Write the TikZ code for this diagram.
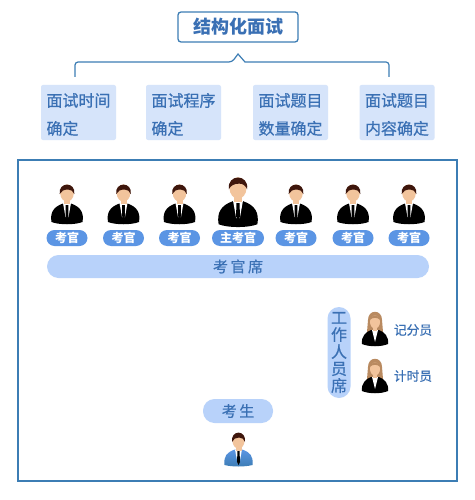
\documentclass[tikz,border=0pt]{standalone}
\usepackage{fontspec}
\setmainfont{Noto Sans CJK SC}
\newfontfamily\medfont[FakeBold=0.6]{Noto Sans CJK SC}
\usetikzlibrary{calc}
\definecolor{ink}{HTML}{3A70B4}
\definecolor{frameblue}{HTML}{3C7DB4}
\definecolor{boxfill}{HTML}{D6E4FA}
\definecolor{pillfill}{HTML}{B8D2FA}
\definecolor{tagfill}{HTML}{5B95E4}
\definecolor{skin}{HTML}{F2C49C}
\definecolor{hair}{HTML}{3E160C}
\definecolor{fhair}{HTML}{B98A60}
\tikzset{
  titlebox/.style={draw=frameblue,line width=1.3pt,rounded corners=3pt,fill=white,minimum width=120pt,minimum height=30pt,text=ink,font=\bfseries\fontsize{18}{18}\selectfont},
  taskbox/.style={fill=boxfill,rounded corners=2pt,minimum width=75pt,minimum height=55pt,text=ink,align=left,font=\medfont\fontsize{16}{28}\selectfont,inner sep=0pt,text width=64pt},
  tagpill/.style={fill=tagfill,rounded corners=8pt,minimum width=41pt,minimum height=16pt,inner sep=0pt,text=white,font=\bfseries\fontsize{12}{12}\selectfont},
  seatpill/.style={fill=pillfill,rounded corners=11.5pt,inner sep=0pt,text=ink,font=\medfont\fontsize{15}{15}\selectfont},
  plainlabel/.style={text=ink,inner sep=0pt,font=\medfont\fontsize{12.7}{13}\selectfont},
  bracketline/.style={draw=frameblue,line width=1.2pt,rounded corners=3pt},
  outerframe/.style={draw=frameblue,line width=1.3pt,fill=white}
}
\newcommand{\manfig}[4]{%
  \begin{scope}[shift={(#1,#2)},scale=#3]
    \fill[#4] (-15.5,29) .. controls (-17,20) and (-14,14) .. (-4,10.5) -- (4,10.5) .. controls (14,14) and (17,20) .. (15.5,29) .. controls (8,32) and (-8,32) .. (-15.5,29) -- cycle;
    \fill[white] (-4,10) -- (4,10) -- (1.5,24) -- (-1.5,24) -- cycle;
    \fill[black] (-1.3,12) -- (1.3,12) -- (1.5,23) -- (0,26) -- (-1.5,23) -- cycle;
    \fill[skin] (-3,4) rectangle (3,11);
    \fill[skin] (0,0) ellipse (6.8 and 8.6);
    \fill[hair] (-7.3,1) .. controls (-9,-11.5) and (9,-11.5) .. (7.3,1) .. controls (6,-2) and (4,-3.5) .. (1,-3.5) .. controls (-3,-3.5) and (-6,-2) .. (-7.3,1) -- cycle;
  \end{scope}}
\newcommand{\womanfig}[2]{%
  \begin{scope}[shift={(#1,#2)}]
    \fill[fhair] (-7,-2) .. controls (-7,-13) and (7,-13) .. (7,-2) -- (8,10) -- (-8,10) -- cycle;
    \fill[black] (-13,22) .. controls (-14,14) and (-9,10) .. (-4,8) -- (4,8) .. controls (9,10) and (14,14) .. (13,22) .. controls (6,25) and (-6,25) .. (-13,22) -- cycle;
    \fill[white] (-3,8) -- (3,8) -- (0,20) -- cycle;
    \fill[skin] (-2.2,3) rectangle (2.2,9);
    \fill[skin] (0,0) ellipse (5 and 6.5);
    \fill[fhair] (-5.5,-2) .. controls (-5,-8) and (5,-8) .. (5.5,-2) .. controls (2,-5) and (-2,-5) .. (-5.5,-2) -- cycle;
  \end{scope}}
\begin{document}
\begin{tikzpicture}[x=1pt,y=-1pt]
\useasboundingbox (0,0) rectangle (474,500);
\fill[white] (0,0) rectangle (474,500);
\node[titlebox] (title) at (238,27) {结构化面试};
\node[fill=boxfill,rounded corners=2pt,minimum width=75pt,minimum height=55pt] (t1) at (78.5,112.5) {};
\node[fill=boxfill,rounded corners=2pt,minimum width=75pt,minimum height=55pt] (t2) at (183.5,112.5) {};
\node[fill=boxfill,rounded corners=2pt,minimum width=75pt,minimum height=55pt] (t3) at (290.5,112.5) {};
\node[fill=boxfill,rounded corners=2pt,minimum width=75pt,minimum height=55pt] (t4) at (397,112.5) {};
\tikzset{tasktext/.style={taskbox,fill=none,yshift=-2pt}}
\node[tasktext] (x1) at (t1) {面试时间\\确定};
\node[tasktext] (x2) at (t2) {面试程序\\确定};
\node[tasktext] (x3) at (t3) {面试题目\\数量确定};
\node[tasktext] (x4) at (t4) {面试题目\\内容确定};
\coordinate (bl) at (75,77);
\coordinate (br) at (389,77);
\coordinate (peak) at (238,54);
\draw[bracketline] (bl) -- (75,62) -- (232,62) [sharp corners] -- (peak) -- (245,62) [rounded corners=3pt] -- (389,62) -- (br);
\node[outerframe,minimum width=439pt,minimum height=321pt,inner sep=0pt] (frame) at (237.5,320.5) {};
\manfig{67}{193}{1}{black}
\manfig{123.5}{193}{1}{black}
\manfig{179.5}{193}{1}{black}
\manfig{238}{188}{1.25}{black}
\manfig{296}{193}{1}{black}
\manfig{353}{193}{1}{black}
\manfig{409}{193}{1}{black}
\node[tagpill] (e1) at (67,238) {考官};
\node[tagpill] (e2) at (123.5,238) {考官};
\node[tagpill] (e3) at (179.5,238) {考官};
\node[tagpill,minimum width=52pt] (e4) at (238,238) {主考官};
\node[tagpill] (e5) at (296,238) {考官};
\node[tagpill] (e6) at (353,238) {考官};
\node[tagpill] (e7) at (409,238) {考官};
\node[seatpill,minimum width=382pt,minimum height=23pt] (seat) at (238,266.5) {考\,官\,席};
\node[seatpill,minimum width=23pt,minimum height=91pt,align=center,font=\medfont\fontsize{16}{17}\selectfont] (staff) at (339,352.5) {工\\作\\人\\员\\席};
\womanfig{375}{322}
\womanfig{375}{369}
\node[plainlabel] (l1) at (413,330) {记分员};
\node[plainlabel] (l2) at (413,376) {计时员};
\node[seatpill,minimum width=70pt,minimum height=24pt] (cand) at (238,411) {考\,生};
\shade[top color=tagfill,bottom color=frameblue] (224.5,465) .. controls (223.5,456) and (227,452) .. (235,449.5) -- (242,449.5) .. controls (250,452) and (253.5,456) .. (252.5,465) .. controls (245,467) and (232,467) .. (224.5,465) -- cycle;
\fill[white] (235,449.5) -- (242,449.5) -- (239.5,463) -- (237.5,463) -- cycle;
\fill[black] (237.5,451) -- (239.5,451) -- (240,462) -- (238.5,465) -- (237,462) -- cycle;
\fill[skin] (235.5,444) rectangle (241.5,451);
\fill[skin] (238.5,441) ellipse (6 and 7.5);
\fill[hair] (232,442) .. controls (230.5,429.5) and (246.5,429.5) .. (245,442) .. controls (244,439) and (242,437.5) .. (239,437.5) .. controls (236,437.5) and (233,439) .. (232,442) -- cycle;
\end{tikzpicture}
\end{document}
